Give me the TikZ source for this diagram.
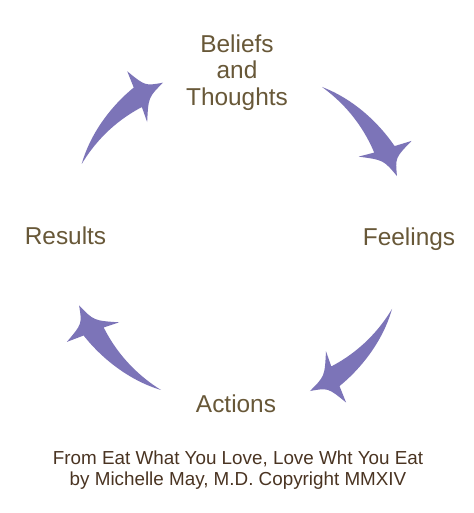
\documentclass[tikz,border=0pt]{standalone}
\usepackage{fontspec}
\setmainfont{Liberation Sans}
\definecolor{arrowpurple}{RGB}{124,116,184}
\definecolor{labelbrown}{RGB}{104,88,56}
\definecolor{notebrown}{RGB}{74,52,34}

\begin{document}
\begin{tikzpicture}[x=1bp,y=1bp]
  \tikzstyle{stage}=[text=labelbrown, font=\fontsize{24.5}{26.8}\selectfont, align=center, inner sep=0pt]
  \tikzstyle{swoosh}=[fill=arrowpurple, draw=none]
  \useasboundingbox[fill=white] (0,0) rectangle (474,513);
  \node[stage] (beliefs) at (237,440.5) {Beliefs\\and\\Thoughts};
  \node[stage, anchor=base] (feelings) at (409,267) {Feelings};
  \node[stage, anchor=base] (actions) at (236,100) {Actions};
  \node[stage, anchor=base] (results) at (65.5,268) {Results};
  \node[text=notebrown, font=\fontsize{18.9}{21}\selectfont, align=center] (credit) at (238,43) {From Eat What You Love, Love Wht You Eat\\by Michelle May, M.D. Copyright MMXIV};
  % curved arrows: tail x / tail y / angle / length
  \foreach \tx/\ty/\ang/\len in {81.7/349/45/115, 322/426/-49.9/116.4, 392/204/-135/116, 161/123/134.1/117.7}
    \fill[swoosh, shift={(\tx,\ty)}, rotate=\ang, scale=\len]
      (0,0) .. controls (0.25,0.14) and (0.55,0.175) .. (0.79,0.15)
      -- (0.85,0.29) .. controls (0.87,0.09) .. (1,0)
      .. controls (0.82,0) .. (0.66,-0.145)
      -- (0.72,-0.02) .. controls (0.45,0.065) and (0.2,0.05) .. (0,0) -- cycle;
\end{tikzpicture}
\end{document}
